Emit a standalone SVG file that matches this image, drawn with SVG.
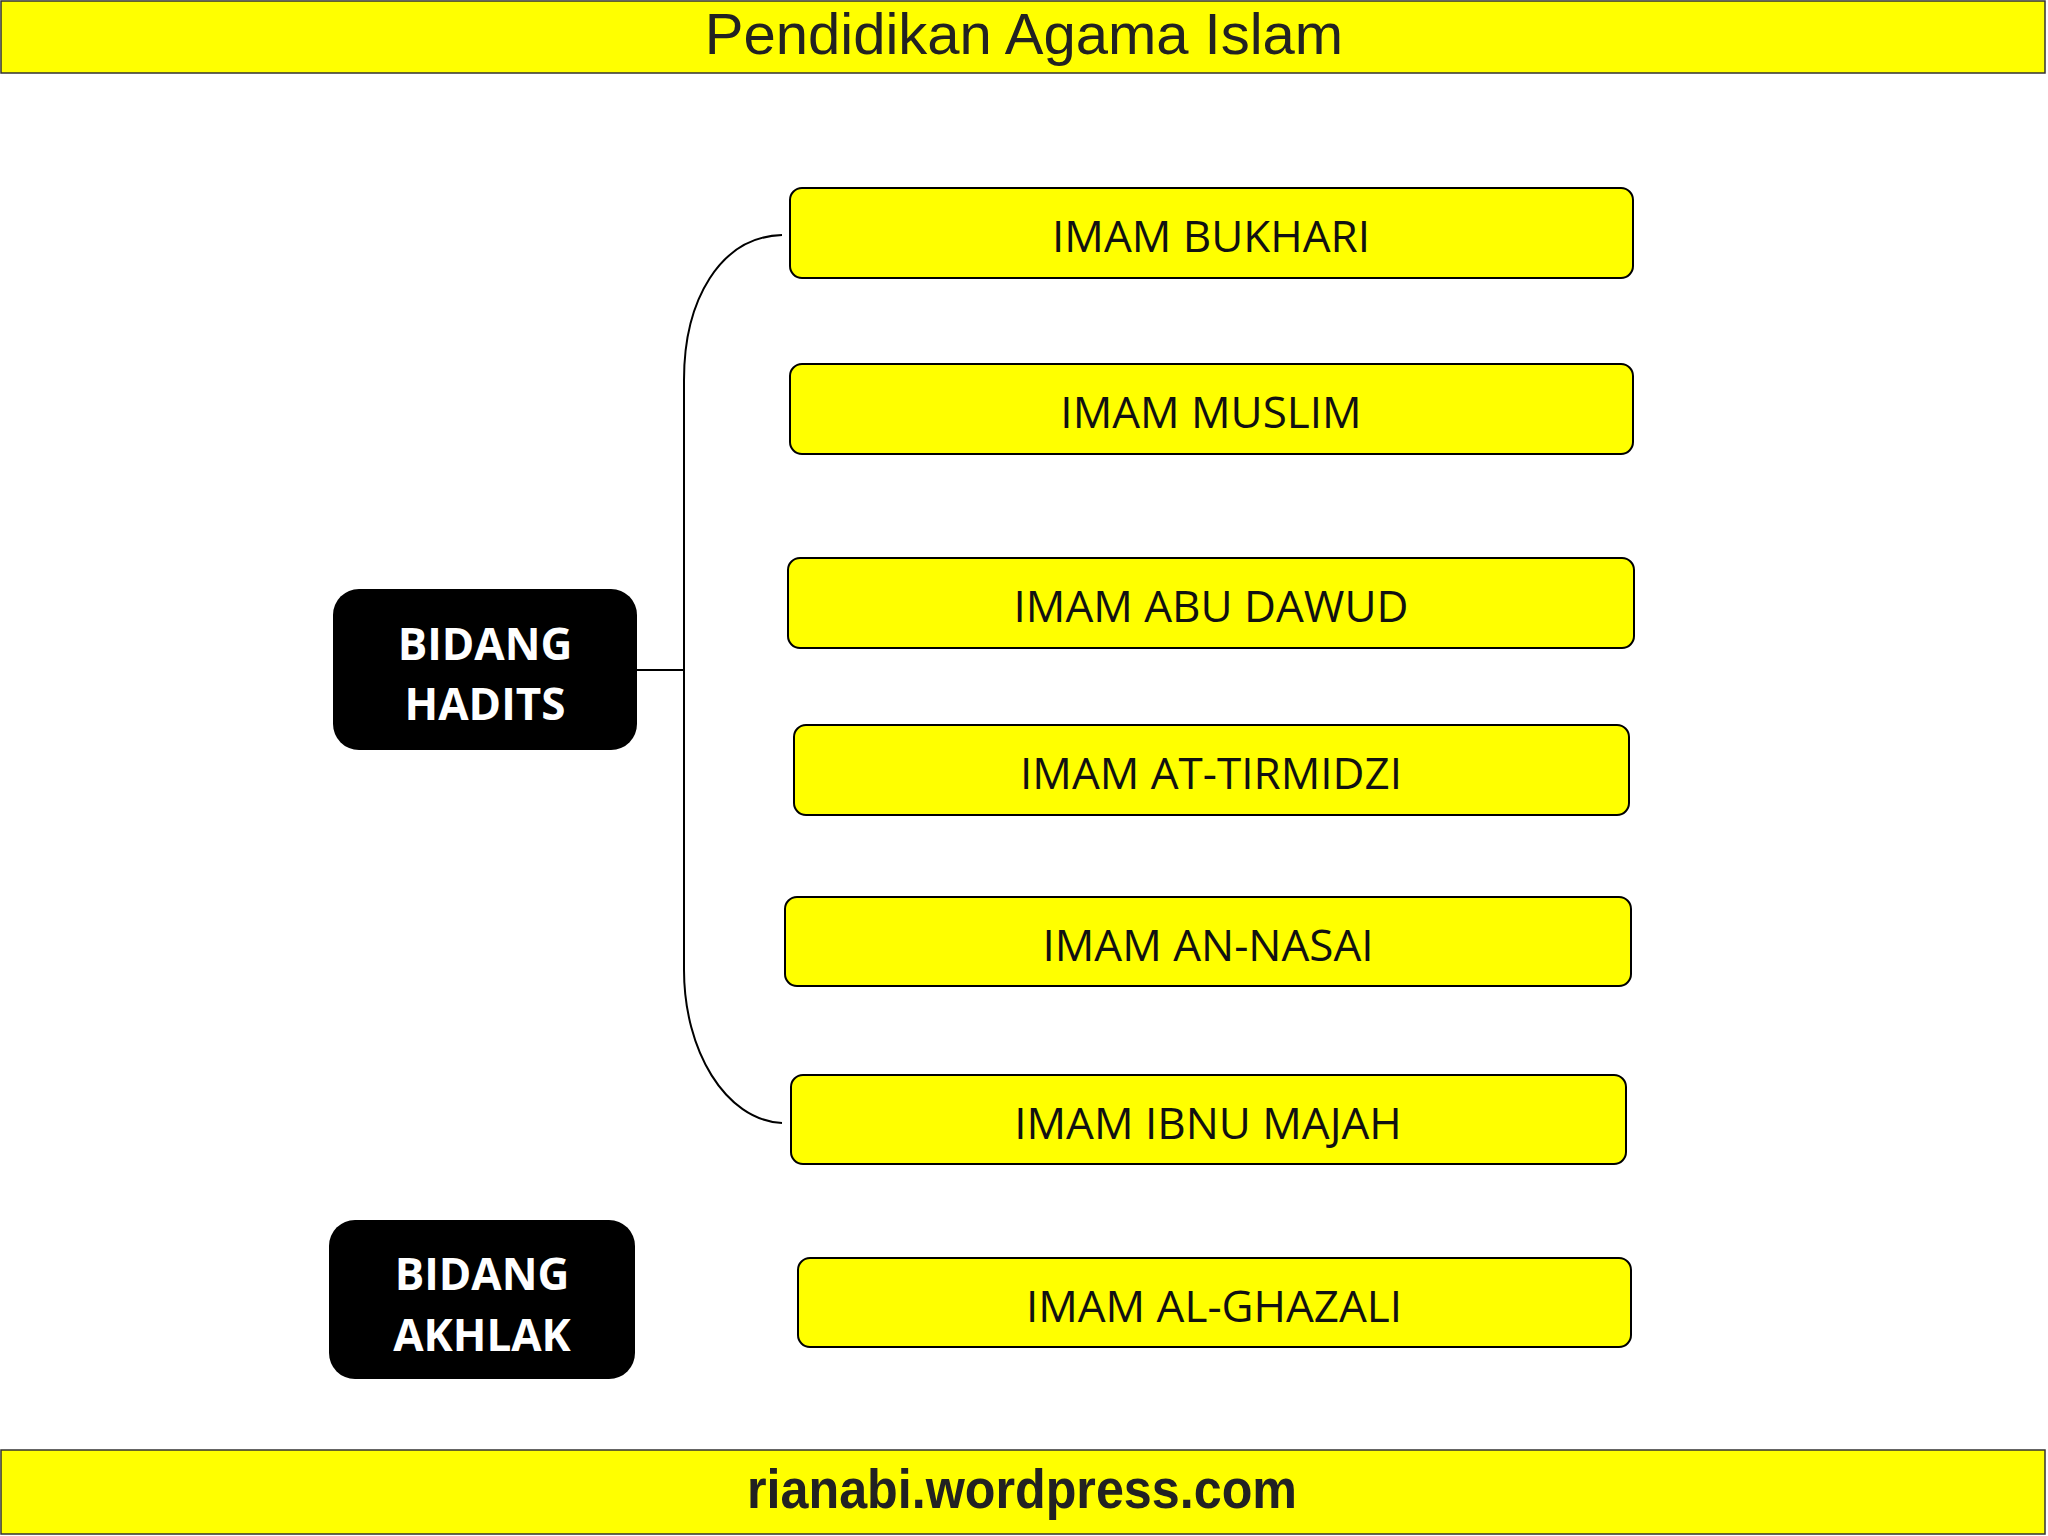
<svg xmlns="http://www.w3.org/2000/svg" width="2048" height="1536" viewBox="0 0 2048 1536">
<style>
.bar{fill:#ffff00;stroke:#333;stroke-width:1.5}
.item{fill:#ffff00;stroke:#000;stroke-width:2}
.it{font-family:"Open Sans","Liberation Sans",sans-serif;font-size:44px;fill:#111;text-anchor:middle}
.bk{fill:#000}
.bt{font-family:"Open Sans","Liberation Sans",sans-serif;font-weight:bold;font-size:44px;fill:#fff;text-anchor:middle}
</style>
<rect width="2048" height="1536" fill="#fff"/>
<g id="title"><rect class="bar" x="1" y="1" width="2044" height="72"/><text x="1024" y="54" font-family="Liberation Sans,sans-serif" font-size="58" text-anchor="middle" fill="#222">Pendidikan Agama Islam</text></g>
<g id="footer"><rect class="bar" x="1" y="1450" width="2044" height="84"/><text x="1022" y="1508" font-family="Liberation Sans,sans-serif" font-weight="bold" font-size="56" text-anchor="middle" fill="#222" textLength="550" lengthAdjust="spacingAndGlyphs">rianabi.wordpress.com</text></g>
<g id="connectors" fill="none" stroke="#000" stroke-width="2">
<path d="M637 670 H684"/>
<path d="M782 235 C720 237 684 300 684 380 V970 C684 1050 725 1120 782 1123"/>
</g>
<g id="hadits"><rect class="bk" x="333" y="589" width="304" height="161" rx="26"/><text class="bt" x="485" y="660">BIDANG</text><text class="bt" x="485" y="720">HADITS</text></g>
<g id="akhlak"><rect class="bk" x="329" y="1220" width="306" height="159" rx="26"/><text class="bt" x="482" y="1290">BIDANG</text><text class="bt" x="482" y="1351">AKHLAK</text></g>
<g id="n1"><rect class="item" x="790" y="188" width="843" height="90" rx="12"/><text class="it" x="1211" y="252">IMAM BUKHARI</text></g>
<g id="n2"><rect class="item" x="790" y="364" width="843" height="90" rx="12"/><text class="it" x="1211" y="428">IMAM MUSLIM</text></g>
<g id="n3"><rect class="item" x="788" y="558" width="846" height="90" rx="12"/><text class="it" x="1211" y="622">IMAM ABU DAWUD</text></g>
<g id="n4"><rect class="item" x="794" y="725" width="835" height="90" rx="12"/><text class="it" x="1211" y="789">IMAM AT-TIRMIDZI</text></g>
<g id="n5"><rect class="item" x="785" y="897" width="846" height="89" rx="12"/><text class="it" x="1208" y="961">IMAM AN-NASAI</text></g>
<g id="n6"><rect class="item" x="791" y="1075" width="835" height="89" rx="12"/><text class="it" x="1208" y="1139">IMAM IBNU MAJAH</text></g>
<g id="n7"><rect class="item" x="798" y="1258" width="833" height="89" rx="12"/><text class="it" x="1214" y="1322">IMAM AL-GHAZALI</text></g>
</svg>
